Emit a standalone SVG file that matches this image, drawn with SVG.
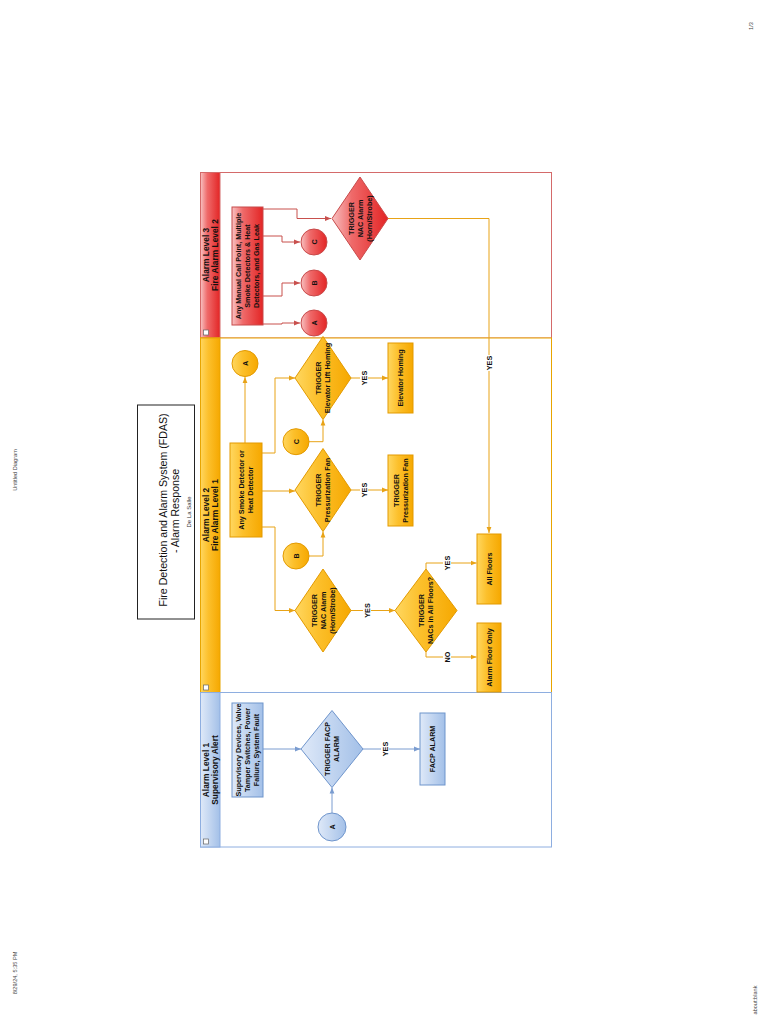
<svg xmlns="http://www.w3.org/2000/svg" width="768" height="1024" viewBox="0 0 768 1024">
<style>
.t{font-family:"Liberation Sans",Arial,sans-serif;font-weight:bold;font-size:7.2px;fill:#111;text-anchor:middle}
.h{font-family:"Liberation Sans",Arial,sans-serif;font-weight:bold;font-size:8.4px;fill:#111;text-anchor:middle}
.p{font-family:"Liberation Sans",Arial,sans-serif;font-size:5.6px;fill:#444;text-anchor:middle}
.lbl{font-family:"Liberation Sans",Arial,sans-serif;font-weight:bold;font-size:7.2px;fill:#111;text-anchor:middle}
.rn{fill:url(#gR);stroke:#c84a4a;stroke-width:1}
.on{fill:url(#gO);stroke:#e39a00;stroke-width:1}
.bn{fill:url(#gB);stroke:#6f95cc;stroke-width:1}
.rc{fill:none;stroke:#c8504d;stroke-width:1}
.oc{fill:none;stroke:#e8a317;stroke-width:1}
.bc{fill:none;stroke:#7a9cd0;stroke-width:1}
.icon{fill:#fff;stroke:#666;stroke-width:0.7}
</style>
<defs>
<linearGradient id="gR" x1="0" y1="0" x2="1" y2="0"><stop offset="0" stop-color="#f8c2c2"/><stop offset="0.35" stop-color="#ef6a6a"/><stop offset="1" stop-color="#e32525"/></linearGradient>
<linearGradient id="gO" x1="0" y1="0" x2="1" y2="0"><stop offset="0" stop-color="#ffd760"/><stop offset="0.4" stop-color="#fcc02c"/><stop offset="1" stop-color="#f6a800"/></linearGradient>
<linearGradient id="gB" x1="0" y1="0" x2="1" y2="0"><stop offset="0" stop-color="#dfe9f8"/><stop offset="1" stop-color="#a3c0e8"/></linearGradient>
<marker id="aR" viewBox="0 0 10 10" refX="10" refY="5" markerWidth="6" markerHeight="6" markerUnits="userSpaceOnUse" orient="auto"><path d="M0,1 L10,5 L0,9 z" fill="#c8504d"/></marker>
<marker id="aO" viewBox="0 0 10 10" refX="10" refY="5" markerWidth="6" markerHeight="6" markerUnits="userSpaceOnUse" orient="auto"><path d="M0,1 L10,5 L0,9 z" fill="#e8a317"/></marker>
<marker id="aB" viewBox="0 0 10 10" refX="10" refY="5" markerWidth="6" markerHeight="6" markerUnits="userSpaceOnUse" orient="auto"><path d="M0,1 L10,5 L0,9 z" fill="#7a9cd0"/></marker>
</defs>
<rect width="768" height="1024" fill="#fff"/>

<!-- page texts -->
<g id="page">
<text class="p" transform="translate(15,973) rotate(-90)" dy="2">8/29/24, 5:35 PM</text>
<text class="p" transform="translate(15,470) rotate(-90)" dy="2">Untitled Diagram</text>
<text class="p" transform="translate(755,1000) rotate(-90)" dy="2">about:blank</text>
<text class="p" transform="translate(751,26) rotate(-90)" dy="2">1/3</text>
</g>

<!-- title -->
<g id="title">
<rect x="137.5" y="405" width="57" height="214" fill="#fff" stroke="#222" stroke-width="1"/>
<text transform="translate(163,510) rotate(-90)" style="font-family:'Liberation Sans',Arial,sans-serif;font-size:10.6px;fill:#111;text-anchor:middle" dy="3.8">Fire Detection and Alarm System (FDAS)</text>
<text transform="translate(175,511) rotate(-90)" style="font-family:'Liberation Sans',Arial,sans-serif;font-size:10.6px;fill:#111;text-anchor:middle" dy="3.8">- Alarm Response</text>
<text transform="translate(189,512) rotate(-90)" style="font-family:'Liberation Sans',Arial,sans-serif;font-size:6px;fill:#333;text-anchor:middle" dy="2.1">De La Salle</text>
</g>

<!-- lanes -->
<g id="lane3">
<rect x="200.5" y="172.5" width="351" height="165.5" fill="#fff" stroke="#d46a6a"/>
<rect x="200.5" y="172.5" width="19.5" height="165.5" fill="url(#gR)" stroke="#d46a6a"/>
<rect class="icon" x="203.5" y="330" width="5" height="5"/>
<text class="h" transform="translate(210.5,255) rotate(-90)"><tspan x="0" dy="-1.5">Alarm Level 3</tspan><tspan x="0" dy="9">Fire Alarm Level 2</tspan></text>
</g>
<g id="lane2">
<rect x="200.5" y="338" width="351" height="354.5" fill="#fff" stroke="#e8a500"/>
<rect x="200.5" y="338" width="19.5" height="354.5" fill="url(#gO)" stroke="#e8a500"/>
<rect class="icon" x="203.5" y="685" width="5" height="5"/>
<text class="h" transform="translate(210.5,515) rotate(-90)"><tspan x="0" dy="-1.5">Alarm Level 2</tspan><tspan x="0" dy="9">Fire Alarm Level 1</tspan></text>
</g>
<g id="lane1">
<rect x="200.5" y="692.5" width="351" height="154.5" fill="#fff" stroke="#8eaee0"/>
<rect x="200.5" y="692.5" width="19.5" height="154.5" fill="url(#gB)" stroke="#8eaee0"/>
<rect class="icon" x="203.5" y="839" width="5" height="5"/>
<text class="h" transform="translate(210.5,770) rotate(-90)"><tspan x="0" dy="-1.5">Alarm Level 1</tspan><tspan x="0" dy="9">Supervisory Alert</tspan></text>
</g>

<!-- connectors -->
<g id="connectors">
<path class="rc" d="M263,209 H297 V218.5 H331" marker-end="url(#aR)"/>
<path class="rc" d="M263,236 H282 V242 H300" marker-end="url(#aR)"/>
<path class="rc" d="M263,296 H282 V283 H300" marker-end="url(#aR)"/>
<path class="rc" d="M263,324 H282 V323 H300" marker-end="url(#aR)"/>
<path class="oc" d="M388,218.5 H489 V533" marker-end="url(#aO)"/>
<path class="oc" d="M245,443 V377" marker-end="url(#aO)"/>
<path class="oc" d="M262,453 H275 V378 H295" marker-end="url(#aO)"/>
<path class="oc" d="M262,491 H295" marker-end="url(#aO)"/>
<path class="oc" d="M262,527 H275 V610.5 H295" marker-end="url(#aO)"/>
<path class="oc" d="M309,441.7 H323 V419.5" marker-end="url(#aO)"/>
<path class="oc" d="M309,556 H323 V531.5" marker-end="url(#aO)"/>
<path class="oc" d="M351,378 H388" marker-end="url(#aO)"/>
<path class="oc" d="M351,490 H388" marker-end="url(#aO)"/>
<path class="oc" d="M351,610.5 H395" marker-end="url(#aO)"/>
<path class="oc" d="M426,569 V563 H476.5" marker-end="url(#aO)"/>
<path class="oc" d="M426,652 V657 H476.5" marker-end="url(#aO)"/>
<path class="bc" d="M263,749 H301" marker-end="url(#aB)"/>
<path class="bc" d="M332,813 V787.5" marker-end="url(#aB)"/>
<path class="bc" d="M363,749 H420" marker-end="url(#aB)"/>
<g id="labels">
<rect x="485" y="355" width="8" height="16" fill="#fff"/>
<text class="lbl" transform="translate(489,363) rotate(-90)" dy="2.6">YES</text>
<rect x="360" y="370" width="8" height="16" fill="#fff"/>
<text class="lbl" transform="translate(364,378) rotate(-90)" dy="2.6">YES</text>
<rect x="360" y="482" width="8" height="16" fill="#fff"/>
<text class="lbl" transform="translate(364,490) rotate(-90)" dy="2.6">YES</text>
<rect x="363" y="602.5" width="8" height="16" fill="#fff"/>
<text class="lbl" transform="translate(367,610.5) rotate(-90)" dy="2.6">YES</text>
<rect x="443" y="555" width="8" height="16" fill="#fff"/>
<text class="lbl" transform="translate(447,563) rotate(-90)" dy="2.6">YES</text>
<rect x="443" y="651" width="8" height="12" fill="#fff"/>
<text class="lbl" transform="translate(447,657) rotate(-90)" dy="2.6">NO</text>
<rect x="381" y="741" width="8" height="16" fill="#fff"/>
<text class="lbl" transform="translate(385,749) rotate(-90)" dy="2.6">YES</text>
</g>
</g>

<!-- red lane nodes -->
<g id="n_red_src">
<rect class="rn" x="232" y="207" width="31" height="118"/>
<text class="t" transform="translate(247.5,266) rotate(-90)"><tspan x="0" dy="-6.5">Any Manual Call Point, Multiple</tspan><tspan x="0" dy="9">Smoke Detectors &amp; Heat</tspan><tspan x="0" dy="9">Detectors, and Gas Leak</tspan></text>
</g>
<g id="n_red_C"><circle class="rn" cx="314" cy="242" r="13"/><text class="t" transform="translate(314,242) rotate(-90)" dy="2.6">C</text></g>
<g id="n_red_B"><circle class="rn" cx="314" cy="283" r="13"/><text class="t" transform="translate(314,283) rotate(-90)" dy="2.6">B</text></g>
<g id="n_red_A"><circle class="rn" cx="314" cy="323" r="13"/><text class="t" transform="translate(314,323) rotate(-90)" dy="2.6">A</text></g>
<g id="n_red_nac">
<polygon class="rn" points="360,177 388,218.5 360,260 332,218.5"/>
<text class="t" transform="translate(360,218.5) rotate(-90)"><tspan x="0" dy="-6.5">TRIGGER</tspan><tspan x="0" dy="9">NAC Alarm</tspan><tspan x="0" dy="9">(Horn/Strobe)</tspan></text>
</g>

<!-- orange lane nodes -->
<g id="n_or_A"><circle class="on" cx="245" cy="363.5" r="13"/><text class="t" transform="translate(245,363.5) rotate(-90)" dy="2.6">A</text></g>
<g id="n_or_src">
<rect class="on" x="230" y="443" width="32" height="94"/>
<text class="t" transform="translate(246,490) rotate(-90)"><tspan x="0" dy="-2">Any Smoke Detector or</tspan><tspan x="0" dy="9">Heat Detector</tspan></text>
</g>
<g id="n_or_elev">
<polygon class="on" points="323,336.5 351,378 323,419.5 295,378"/>
<text class="t" transform="translate(323,378) rotate(-90)"><tspan x="0" dy="-2">TRIGGER</tspan><tspan x="0" dy="9">Elevator Lift Homing</tspan></text>
</g>
<g id="n_or_elevhoming">
<rect class="on" x="388" y="343" width="25" height="70"/>
<text class="t" transform="translate(400.5,378) rotate(-90)" dy="2.6">Elevator Homing</text>
</g>
<g id="n_or_C"><circle class="on" cx="296" cy="441.7" r="13"/><text class="t" transform="translate(296,441.7) rotate(-90)" dy="2.6">C</text></g>
<g id="n_or_pfan">
<polygon class="on" points="323,448.5 351,490 323,531.5 295,490"/>
<text class="t" transform="translate(323,490) rotate(-90)"><tspan x="0" dy="-2">TRIGGER</tspan><tspan x="0" dy="9">Pressurization Fan</tspan></text>
</g>
<g id="n_or_pfanbox">
<rect class="on" x="388" y="455" width="25" height="71"/>
<text class="t" transform="translate(400.5,490.5) rotate(-90)"><tspan x="0" dy="-2">TRIGGER</tspan><tspan x="0" dy="9">Pressurization Fan</tspan></text>
</g>
<g id="n_or_B"><circle class="on" cx="296" cy="556" r="13"/><text class="t" transform="translate(296,556) rotate(-90)" dy="2.6">B</text></g>
<g id="n_or_nac">
<polygon class="on" points="323,569 351,610.5 323,652 295,610.5"/>
<text class="t" transform="translate(323,610.5) rotate(-90)"><tspan x="0" dy="-6.5">TRIGGER</tspan><tspan x="0" dy="9">NAC Alarm</tspan><tspan x="0" dy="9">(Horn/Strobe)</tspan></text>
</g>
<g id="n_or_nacs">
<polygon class="on" points="426,569 457,610.5 426,652 395,610.5"/>
<text class="t" transform="translate(426,610.5) rotate(-90)"><tspan x="0" dy="-2">TRIGGER</tspan><tspan x="0" dy="9">NACs in All Floors?</tspan></text>
</g>
<g id="n_or_all">
<rect class="on" x="477" y="534" width="24" height="70"/>
<text class="t" transform="translate(489,569) rotate(-90)" dy="2.6">All Floors</text>
</g>
<g id="n_or_floor">
<rect class="on" x="477" y="623" width="24" height="69"/>
<text class="t" transform="translate(489,657.5) rotate(-90)" dy="2.6">Alarm Floor Only</text>
</g>

<!-- blue lane nodes -->
<g id="n_bl_src">
<rect class="bn" x="232" y="703" width="31" height="94"/>
<text class="t" transform="translate(247.5,750) rotate(-90)"><tspan x="0" dy="-6.5">Supervisory Devices, Valve</tspan><tspan x="0" dy="9">Tamper Switches, Power</tspan><tspan x="0" dy="9">Failure, System Fault</tspan></text>
</g>
<g id="n_bl_facp">
<polygon class="bn" points="332,710.5 363,749 332,787.5 301,749"/>
<text class="t" transform="translate(332,749) rotate(-90)"><tspan x="0" dy="-2">TRIGGER FACP</tspan><tspan x="0" dy="9">ALARM</tspan></text>
</g>
<g id="n_bl_alarm">
<rect class="bn" x="420" y="713" width="25" height="72"/>
<text class="t" transform="translate(432.5,749) rotate(-90)" dy="2.6">FACP ALARM</text>
</g>
<g id="n_bl_A"><circle class="bn" cx="332" cy="827" r="14"/><text class="t" transform="translate(332,827) rotate(-90)" dy="2.6">A</text></g>
</svg>
